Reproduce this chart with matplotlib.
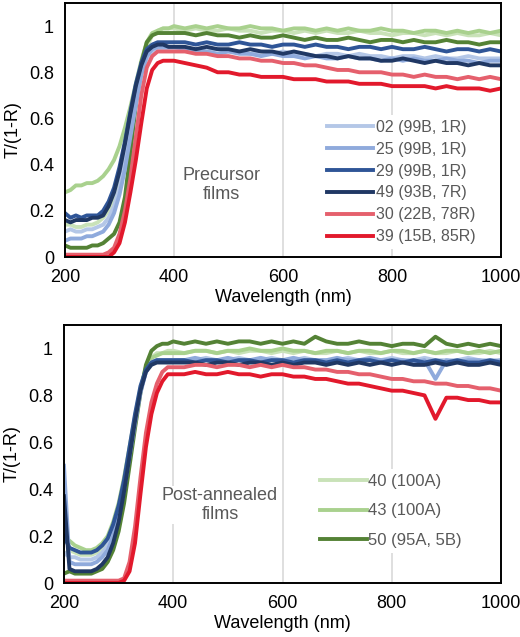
import matplotlib
matplotlib.use("Agg")
import matplotlib.pyplot as plt

plt.rcParams['font.family'] = ['Liberation Sans', 'DejaVu Sans']

# wavelength samples (nm)
wl = list(range(200, 400, 10)) + list(range(400, 1001, 20))

# ---- Precursor films (top panel) ----
pre_02 = [0.11,0.12,0.11,0.11,0.12,0.12,0.13,0.14,0.17,0.22,0.30,0.41,0.54,0.67,0.79,0.86,0.89,0.90,0.90,0.90,0.90,
          0.90,0.90,0.89,0.90,0.89,0.89,0.88,0.89,0.88,0.89,0.88,0.88,0.87,0.88,0.88,0.87,0.88,0.87,0.87,0.86,0.87,0.87,0.86,0.87,0.86,0.86,0.87,0.86,0.86,0.86]
pre_25 = [0.07,0.08,0.08,0.08,0.09,0.09,0.10,0.11,0.14,0.19,0.27,0.38,0.52,0.66,0.79,0.87,0.90,0.91,0.91,0.91,0.91,
          0.90,0.89,0.89,0.88,0.89,0.88,0.88,0.87,0.88,0.87,0.87,0.86,0.87,0.86,0.86,0.87,0.86,0.86,0.85,0.86,0.85,0.86,0.85,0.85,0.86,0.85,0.85,0.84,0.85,0.85]
pre_29 = [0.19,0.17,0.18,0.17,0.18,0.18,0.18,0.20,0.24,0.30,0.39,0.50,0.63,0.75,0.84,0.90,0.92,0.93,0.93,0.93,0.93,
          0.93,0.92,0.93,0.92,0.92,0.93,0.92,0.92,0.91,0.92,0.92,0.91,0.92,0.91,0.91,0.90,0.91,0.91,0.90,0.91,0.90,0.90,0.91,0.90,0.89,0.90,0.90,0.89,0.90,0.89]
pre_49 = [0.16,0.15,0.16,0.16,0.16,0.17,0.17,0.18,0.22,0.28,0.37,0.49,0.62,0.74,0.83,0.89,0.91,0.92,0.92,0.91,0.91,
          0.91,0.90,0.91,0.90,0.90,0.89,0.90,0.89,0.89,0.88,0.89,0.88,0.87,0.87,0.86,0.87,0.86,0.86,0.85,0.85,0.86,0.85,0.84,0.85,0.84,0.84,0.83,0.84,0.83,0.83]
pre_30 = [0.01,0.01,0.01,0.01,0.01,0.01,0.01,0.01,0.02,0.04,0.10,0.20,0.34,0.52,0.70,0.82,0.87,0.89,0.89,0.89,0.89,
          0.89,0.88,0.88,0.87,0.87,0.86,0.86,0.85,0.85,0.84,0.84,0.83,0.83,0.82,0.81,0.81,0.80,0.80,0.80,0.79,0.79,0.78,0.79,0.78,0.78,0.77,0.78,0.77,0.78,0.77]
pre_39 = [0.00,0.00,0.00,0.00,0.00,0.00,0.00,0.00,0.00,0.02,0.06,0.15,0.28,0.42,0.58,0.73,0.81,0.84,0.85,0.85,0.85,
          0.84,0.83,0.82,0.80,0.80,0.79,0.79,0.78,0.78,0.78,0.77,0.77,0.77,0.76,0.76,0.76,0.75,0.75,0.75,0.74,0.74,0.74,0.74,0.73,0.74,0.73,0.73,0.73,0.72,0.73]
pre_40 = [0.14,0.14,0.13,0.13,0.14,0.14,0.15,0.17,0.20,0.26,0.35,0.46,0.58,0.70,0.82,0.91,0.96,0.98,0.99,0.99,0.99,
          0.98,0.99,0.98,0.98,0.99,0.98,0.98,0.97,0.98,0.98,0.97,0.98,0.97,0.98,0.97,0.97,0.98,0.97,0.97,0.96,0.97,0.97,0.96,0.97,0.96,0.97,0.96,0.96,0.97,0.96]
pre_43 = [0.28,0.29,0.31,0.31,0.32,0.32,0.33,0.35,0.38,0.42,0.48,0.56,0.65,0.75,0.85,0.93,0.97,0.98,0.99,0.99,1.00,
          0.99,1.00,0.99,1.00,0.99,0.99,1.00,0.99,0.99,0.98,0.99,0.99,0.98,0.99,0.98,0.99,0.98,0.98,0.99,0.98,0.98,0.97,0.98,0.98,0.97,0.98,0.97,0.98,0.97,0.98]
pre_50 = [0.05,0.04,0.04,0.04,0.04,0.05,0.05,0.06,0.08,0.10,0.15,0.26,0.45,0.66,0.84,0.93,0.96,0.97,0.97,0.97,0.97,
          0.97,0.96,0.97,0.96,0.96,0.95,0.96,0.95,0.95,0.96,0.95,0.94,0.95,0.94,0.94,0.95,0.94,0.93,0.94,0.94,0.93,0.94,0.93,0.93,0.94,0.93,0.93,0.92,0.93,0.93]

# ---- Post-annealed films (bottom panel) ----
ann_02 = [0.13,0.11,0.11,0.10,0.10,0.10,0.11,0.13,0.16,0.22,0.30,0.42,0.56,0.70,0.82,0.90,0.94,0.95,0.95,0.95,0.95,
          0.95,0.95,0.96,0.95,0.95,0.96,0.95,0.95,0.96,0.95,0.95,0.96,0.95,0.95,0.95,0.96,0.95,0.95,0.95,0.96,0.95,0.95,0.96,0.95,0.95,0.95,0.96,0.95,0.95,0.95]
ann_25 = [0.50,0.09,0.08,0.08,0.08,0.08,0.09,0.11,0.14,0.20,0.28,0.40,0.54,0.68,0.81,0.90,0.94,0.95,0.95,0.95,0.95,
          0.95,0.96,0.95,0.95,0.96,0.95,0.95,0.96,0.95,0.95,0.96,0.95,0.95,0.95,0.96,0.95,0.95,0.96,0.95,0.95,0.95,0.94,0.95,0.87,0.95,0.94,0.95,0.95,0.94,0.95]
ann_29 = [0.20,0.15,0.14,0.13,0.13,0.13,0.14,0.16,0.19,0.25,0.33,0.44,0.58,0.72,0.84,0.91,0.94,0.95,0.95,0.95,0.95,
          0.95,0.94,0.95,0.95,0.94,0.95,0.95,0.94,0.95,0.95,0.94,0.95,0.95,0.94,0.95,0.94,0.95,0.95,0.94,0.95,0.94,0.95,0.94,0.95,0.94,0.95,0.94,0.94,0.95,0.94]
ann_49 = [0.37,0.06,0.05,0.05,0.05,0.05,0.06,0.08,0.11,0.17,0.26,0.39,0.54,0.69,0.82,0.90,0.93,0.94,0.94,0.94,0.94,
          0.94,0.94,0.93,0.94,0.94,0.93,0.94,0.94,0.93,0.94,0.93,0.94,0.94,0.93,0.94,0.93,0.94,0.93,0.94,0.93,0.94,0.93,0.93,0.94,0.93,0.94,0.93,0.93,0.94,0.93]
ann_30 = [0.01,0.01,0.01,0.01,0.01,0.01,0.01,0.01,0.01,0.01,0.01,0.02,0.09,0.24,0.45,0.64,0.77,0.85,0.90,0.92,0.92,
          0.92,0.93,0.93,0.92,0.93,0.93,0.92,0.93,0.92,0.93,0.92,0.92,0.91,0.91,0.90,0.90,0.89,0.89,0.88,0.87,0.87,0.86,0.86,0.85,0.85,0.84,0.84,0.83,0.83,0.82]
ann_39 = [0.00,0.00,0.00,0.00,0.00,0.00,0.00,0.00,0.00,0.00,0.00,0.01,0.05,0.17,0.38,0.58,0.72,0.81,0.86,0.89,0.89,
          0.89,0.90,0.89,0.89,0.90,0.89,0.89,0.88,0.89,0.89,0.88,0.88,0.87,0.87,0.86,0.85,0.85,0.84,0.83,0.82,0.82,0.81,0.80,0.70,0.79,0.79,0.78,0.78,0.77,0.77]
ann_40 = [0.12,0.14,0.13,0.12,0.12,0.12,0.13,0.15,0.18,0.24,0.32,0.43,0.56,0.70,0.82,0.91,0.96,0.98,0.98,0.99,0.99,
          0.98,0.99,0.99,0.98,0.99,0.98,0.99,0.99,0.98,0.99,0.98,0.99,0.98,0.98,0.99,0.98,0.99,0.98,0.98,0.99,0.98,0.98,0.99,0.98,0.98,0.99,0.98,0.98,0.99,0.98]
ann_43 = [0.19,0.18,0.16,0.15,0.14,0.14,0.15,0.17,0.20,0.26,0.34,0.45,0.58,0.71,0.83,0.92,0.96,0.97,0.98,0.98,0.98,
          0.98,0.99,0.99,0.98,0.99,0.99,1.00,0.99,0.99,1.00,0.99,0.99,0.98,0.99,0.99,0.98,0.99,0.99,0.98,0.99,0.99,0.98,0.99,0.98,0.99,0.99,0.98,0.99,0.98,0.99]
ann_50 = [0.04,0.05,0.04,0.04,0.04,0.04,0.05,0.06,0.09,0.14,0.22,0.34,0.50,0.66,0.81,0.93,0.99,1.01,1.02,1.02,1.03,
          1.02,1.03,1.02,1.03,1.02,1.03,1.03,1.02,1.03,1.02,1.03,1.02,1.05,1.03,1.02,1.02,1.03,1.02,1.02,1.01,1.02,1.02,1.01,1.05,1.02,1.01,1.02,1.01,1.02,1.01]

labels = {
    '02': '02 (99B, 1R)', '25': '25 (99B, 1R)', '29': '29 (99B, 1R)',
    '49': '49 (93B, 7R)', '30': '30 (22B, 78R)', '39': '39 (15B, 85R)',
    '40': '40 (100A)', '43': '43 (100A)', '50': '50 (95A, 5B)',
}
colors = {
    '02': '#b4c7e7', '25': '#8faadc', '29': '#2f5597', '49': '#203864',
    '30': '#e5606d', '39': '#e2192c',
    '40': '#c9e2b8', '43': '#a9d18e', '50': '#548235',
}
pre = {'40': pre_40, '43': pre_43, '50': pre_50, '02': pre_02, '25': pre_25,
       '29': pre_29, '49': pre_49, '30': pre_30, '39': pre_39}
ann = {'40': ann_40, '43': ann_43, '50': ann_50, '02': ann_02, '25': ann_25,
       '29': ann_29, '49': ann_49, '30': ann_30, '39': ann_39}

yticks = [0, 0.2, 0.4, 0.6, 0.8, 1]
ytick_labels = ['0', '0.2', '0.4', '0.6', '0.8', '1']
xticks = [200, 400, 600, 800, 1000]

fig = plt.figure(figsize=(5.2, 6.37), dpi=100)
W, H = 520, 637
ax1 = fig.add_axes([65 / W, 1 - 257 / H, 436 / W, 254 / H])
ax2 = fig.add_axes([64 / W, 1 - 583 / H, 437 / W, 258 / H])

LW = 2.8
grey_txt = '#595959'


def style(ax):
    ax.set_xlim(200, 1000)
    ax.set_ylim(0, 1.1)
    ax.set_xticks(xticks)
    ax.set_yticks(yticks)
    ax.set_yticklabels(ytick_labels)
    ax.tick_params(axis='both', length=0, labelsize=13, colors='black')
    ax.tick_params(axis='x', pad=9)
    ax.tick_params(axis='y', pad=8)
    for x in [400, 600, 800]:
        ax.axvline(x, color='#d9d9d9', lw=1.2, zorder=0)
    for s in ax.spines.values():
        s.set_linewidth(1.4)
        s.set_color('black')
    ax.set_xlabel('Wavelength (nm)', fontsize=13)
    ax.set_ylabel('T/(1-R)', fontsize=13)
    ax.yaxis.set_label_coords(-0.10, 0.5)


handles1 = {}
for k, v in pre.items():
    handles1[k], = ax1.plot(wl, v, color=colors[k], lw=LW, label=labels[k],
                            solid_joinstyle='round', zorder=2)
handles2 = {}
for k, v in ann.items():
    handles2[k], = ax2.plot(wl, v, color=colors[k], lw=LW, label=labels[k],
                            solid_joinstyle='round', zorder=2)

style(ax1)
style(ax2)
ax1.xaxis.set_label_coords(0.5, -0.125)
ax2.xaxis.set_label_coords(0.5, -0.125)

# annotation positions (figure pixels -> figure fraction)
ax1.text(221 / W, 1 - 185 / H, 'Precursor\nfilms', transform=fig.transFigure,
         ha='center', va='center', fontsize=13,
         color=grey_txt, linespacing=1.1, zorder=5,
         bbox=dict(facecolor='white', edgecolor='none', pad=1))
ax2.text(220 / W, 1 - 505 / H, 'Post-annealed\nfilms', transform=fig.transFigure,
         ha='center', va='center', fontsize=13,
         color=grey_txt, linespacing=1.1, zorder=5,
         bbox=dict(facecolor='white', edgecolor='none', pad=1))

top_keys = ['02', '25', '29', '49', '30', '39']
leg1 = ax1.legend([handles1[k] for k in top_keys], [labels[k] for k in top_keys],
                  loc='upper left', bbox_to_anchor=(322 / W, 1 - 115 / H),
                  bbox_transform=fig.transFigure, frameon=True, fancybox=False,
                  facecolor='white', edgecolor='none', framealpha=1,
                  fontsize=11.5, handlelength=2.9, handletextpad=0.2,
                  labelspacing=0.43, borderpad=0.3, borderaxespad=0)
for t in leg1.get_texts():
    t.set_color(grey_txt)
leg1.set_zorder(10)

bot_keys = ['40', '43', '50']
leg2 = ax2.legend([handles2[k] for k in bot_keys], [labels[k] for k in bot_keys],
                  loc='upper left', bbox_to_anchor=(315 / W, 1 - 469 / H),
                  bbox_transform=fig.transFigure, frameon=True, fancybox=False,
                  facecolor='white', edgecolor='none', framealpha=1,
                  fontsize=12, handlelength=2.8, handletextpad=0.1,
                  labelspacing=0.87, borderpad=0.3, borderaxespad=0)
for t in leg2.get_texts():
    t.set_color(grey_txt)
leg2.set_zorder(10)

fig.savefig('out.png', dpi=100)
